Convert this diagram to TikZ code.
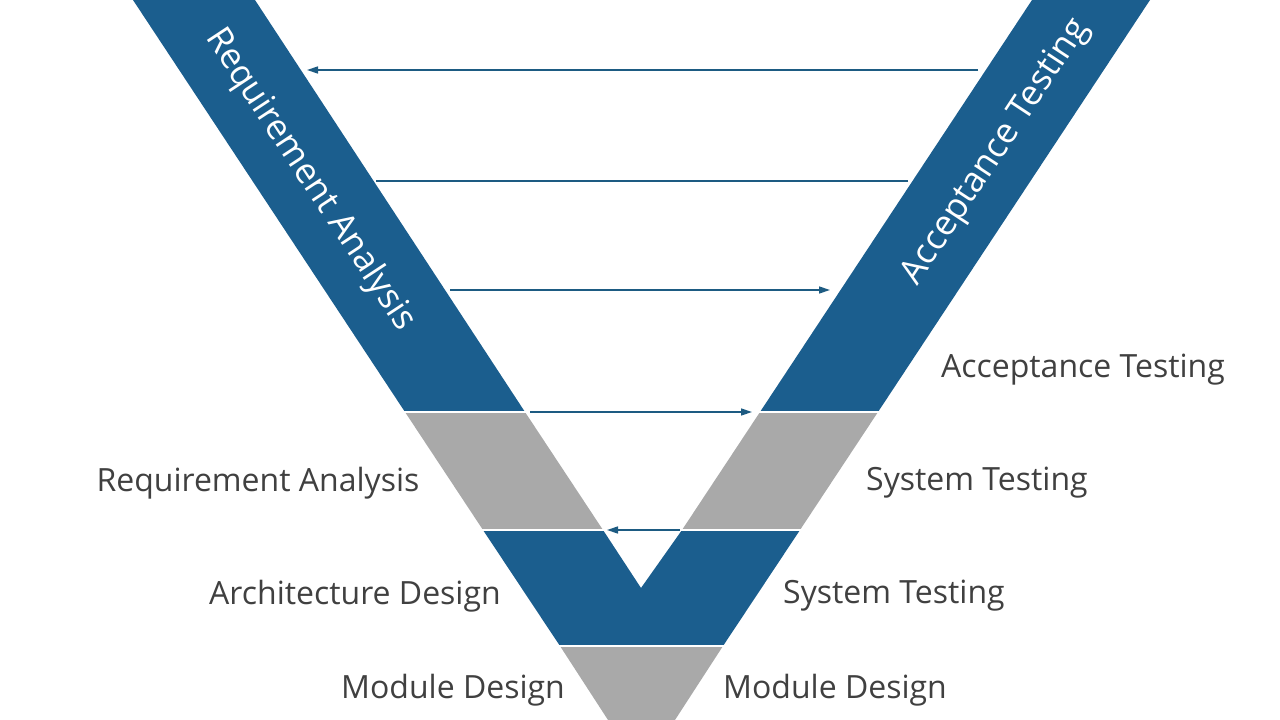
\documentclass[tikz,border=0pt]{standalone}
\usepackage{fontspec}
\setmainfont{Open Sans}
\usetikzlibrary{arrows.meta}
\definecolor{vblue}{HTML}{1B5E8E}
\definecolor{vgray}{HTML}{A9A9A9}
\definecolor{arr}{HTML}{1D5B82}
\definecolor{txt}{HTML}{404040}
\begin{document}
\begin{tikzpicture}[x=1pt,y=-1pt,
  lbl/.style={font=\fontsize{32}{34}\selectfont,text=txt,inner sep=0},
  band/.style={font=\fontsize{35}{36}\selectfont,text=white,inner sep=0},
  conn/.style={draw=arr,line width=1.4pt,-{Triangle[length=11pt,width=7pt]}},
  plain/.style={draw=arr,line width=1.4pt}]
\useasboundingbox (0,0) rectangle (1280,720);
% blue top arms
\fill[vblue] (133,0) -- (255,0) -- (525,412) -- (405,412) -- cycle;
\fill[vblue] (1032,0) -- (1150,0) -- (878,412) -- (760,412) -- cycle;
% gray band
\fill[vgray] (405,412) -- (525,412) -- (603,530) -- (483,530) -- cycle;
\fill[vgray] (760,412) -- (878,412) -- (800,530) -- (682,530) -- cycle;
% blue V
\fill[vblue] (483,530) -- (603,530) -- (641,588) -- (682,530) -- (800,530) -- (723,646) -- (560,646) -- cycle;
% gray bottom
\fill[vgray] (560,646) -- (723,646) -- (675,720) -- (608,720) -- cycle;
% white separators
\draw[white,line width=1.5pt] (400,412) -- (530,412) (755,412) -- (883,412) (478,530) -- (805,530) (555,646) -- (728,646);
% connectors
\coordinate (a1) at (978,70); \coordinate (b1) at (307,70);
\coordinate (a2) at (908,181); \coordinate (b2) at (376,181);
\coordinate (a3) at (450,290); \coordinate (b3) at (830,290);
\coordinate (a4) at (530,412); \coordinate (b4) at (752,412);
\coordinate (a5) at (680,530); \coordinate (b5) at (607,530);
\draw[conn] (a1) -- (b1);
\draw[plain] (a2) -- (b2);
\draw[conn] (a3) -- (b3);
\draw[conn] (a4) -- (b4);
\draw[conn] (a5) -- (b5);
% band labels
\node[band,rotate=-56.6] (ra) at (310,180) {Requirement Analysis};
\node[band,rotate=56.6] (at) at (996,152) {Acceptance Testing};
% side labels
\node[lbl] (l1) at (1083,370) {Acceptance Testing};
\node[lbl] (l2) at (258,483) {Requirement Analysis};
\node[lbl] (l3) at (977,483) {System Testing};
\node[lbl] (l4) at (355,596) {Architecture Design};
\node[lbl] (l5) at (894,596) {System Testing};
\node[lbl] (l6) at (453,690) {Module Design};
\node[lbl] (l7) at (835,690) {Module Design};
\end{tikzpicture}
\end{document}
